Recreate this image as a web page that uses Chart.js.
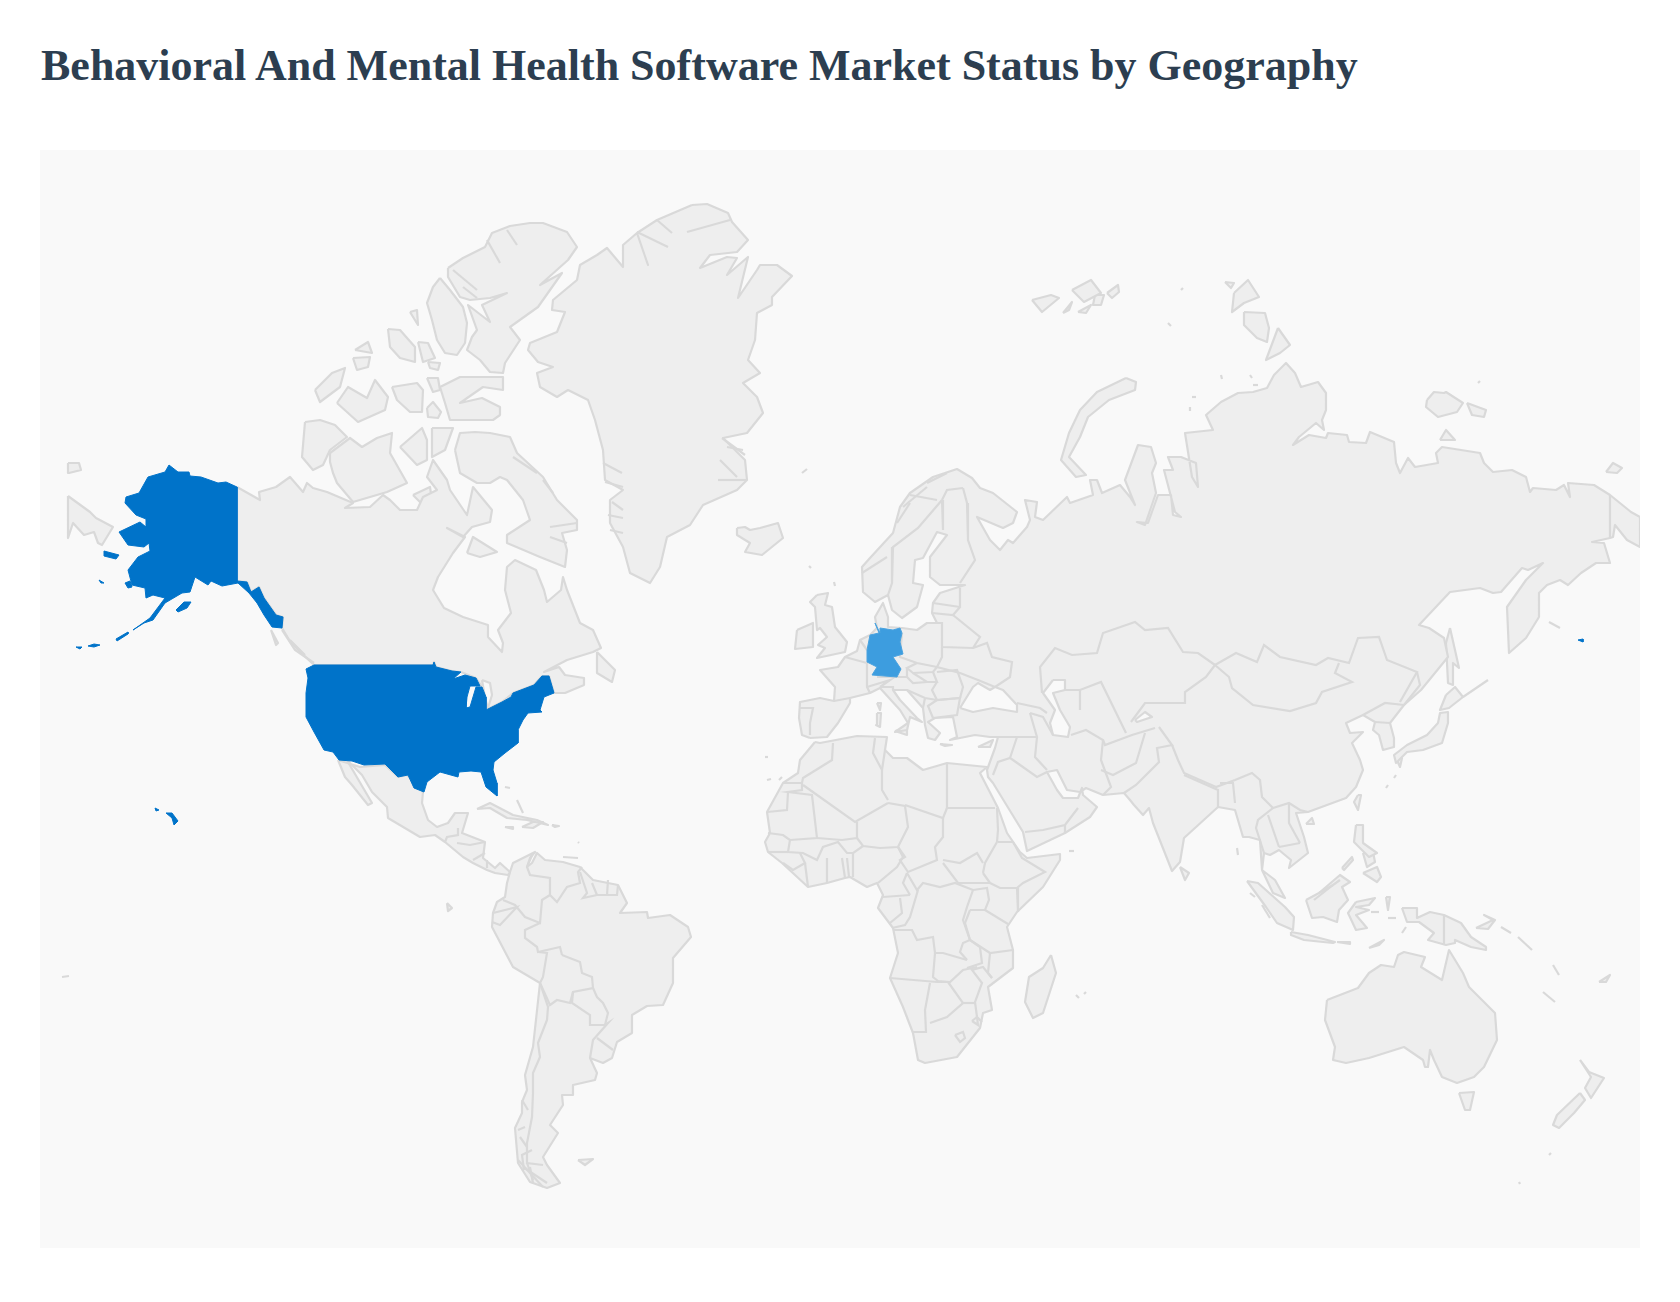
<!DOCTYPE html>
<html>
<head>
<meta charset="utf-8">
<title>Market Status by Geography</title>
<script src="https://cdn.jsdelivr.net/npm/chart.js@4"></script>
<style>
    html, body { margin: 0; background: #fff; }
    h1 { position: absolute; left: 41px; top: 40px; margin: 0; font: bold 44px "Liberation Serif", "Times New Roman", serif; color: #2c3e50; white-space: nowrap; }
    #panel { position: absolute; left: 40px; top: 150px; width: 1600px; height: 1098px; background: #f9f9f9; }
</style>
</head>
<body>
<h1>Behavioral And Mental Health Software Market Status by Geography</h1>
<div id="panel"><canvas id="mapChart"></canvas></div>
<script>
// outlines, x/y in map units
const usaMain = [[314,665],[433,665],[434,662],[436,667],[452,671],[461,672],[453,679],[465,675],[476,678],[480,686],[470,686],[467,697],[466,708],[470,707],[476,687],[482,687],[486,697],[486,710],[502,702],[511,697],[513,693],[534,685],[542,676],[549,676],[554,693],[544,697],[540,710],[542,712],[528,713],[523,720],[518,730],[518,743],[505,753],[494,762],[493,770],[497,783],[497,796],[486,787],[481,772],[471,771],[459,772],[458,777],[440,772],[427,782],[424,792],[414,788],[408,775],[398,777],[385,764],[364,765],[352,761],[339,760],[333,752],[324,750],[314,732],[306,717],[306,693],[308,678],[306,669]];
const alaska = [[169,465],[178,472],[189,472],[190,476],[201,477],[218,483],[226,482],[237,487],[237,581],[247,582],[251,592],[259,587],[264,598],[276,615],[283,617],[282,628],[272,627],[264,615],[257,603],[249,593],[238,583],[222,586],[211,581],[208,585],[195,577],[190,592],[182,593],[165,603],[153,620],[144,623],[133,630],[150,618],[165,598],[153,595],[146,598],[145,588],[132,585],[128,570],[138,557],[150,551],[149,543],[144,547],[128,545],[119,532],[140,522],[146,527],[146,519],[136,515],[125,503],[126,497],[139,493],[148,477],[165,472]];
const usaIslands = [
    [[104,551],[119,555],[116,559],[104,556]],
    [[125,583],[130,581],[132,587],[128,588]],
    [[176,610],[184,602],[191,602],[187,608],[178,612]],
    [[116,639],[128,632],[128,634],[117,641]],
    [[88,646],[94,644],[100,645],[94,647]],
    [[76,647],[82,647],[80,649]],
    [[99,580],[104,583],[101,583]],
    [[166,813],[172,813],[178,821],[174,825],[172,818]],
    [[155,808],[159,810],[156,811]],
    [[1578,640],[1583,639],[1583,642]]
];
const germany = [[875,623],[880,633],[880,628],[893,630],[900,628],[902,633],[900,642],[903,654],[893,657],[901,669],[897,677],[872,675],[877,667],[867,662],[867,650],[870,635],[879,633]];

const canada = [[237,487],[260,500],[259,492],[276,487],[290,477],[303,492],[307,483],[313,488],[327,492],[353,503],[345,508],[370,507],[383,495],[390,500],[400,510],[417,510],[423,497],[437,490],[427,477],[433,460],[447,480],[450,490],[467,515],[473,487],[492,510],[490,522],[472,527],[463,537],[447,528],[465,537],[453,553],[438,577],[433,590],[444,608],[463,617],[488,625],[488,637],[502,652],[503,643],[498,630],[511,613],[505,590],[507,567],[515,560],[536,570],[544,590],[547,602],[561,590],[563,577],[567,590],[580,623],[593,630],[601,648],[593,652],[567,660],[544,672],[559,667],[565,675],[584,678],[584,685],[565,693],[554,693],[549,676],[542,676],[534,685],[513,693],[502,702],[486,710],[486,697],[482,687],[476,678],[461,672],[452,671],[436,667],[434,662],[433,665],[314,665],[291,643],[282,628],[283,617],[276,615],[264,598],[259,587],[251,592],[247,582],[237,581]];
const arcticIslands = [
    [[448,268],[463,258],[485,247],[492,233],[510,226],[530,223],[543,223],[567,232],[577,247],[568,260],[540,285],[562,273],[538,307],[510,327],[520,340],[505,363],[503,373],[490,372],[480,360],[467,350],[472,337],[477,330],[468,305],[490,322],[482,305],[507,293],[490,298],[470,300],[460,297],[448,277]],
    [[440,278],[450,290],[463,307],[467,323],[465,343],[457,355],[445,353],[437,340],[432,320],[427,303],[433,287]],
    [[388,329],[400,330],[415,347],[415,362],[400,358],[390,347]],
    [[418,342],[428,343],[435,358],[423,362]],
    [[355,350],[368,342],[372,353]],
    [[353,358],[370,357],[368,367],[357,370]],
    [[410,312],[417,310],[418,325]],
    [[427,378],[438,378],[440,390],[433,392]],
    [[428,362],[440,363],[438,370],[430,368]],
    [[315,390],[332,373],[345,368],[340,387],[320,402]],
    [[337,403],[348,387],[367,398],[375,380],[388,397],[385,410],[358,422]],
    [[392,387],[417,383],[423,390],[422,412],[410,412],[397,400]],
    [[427,408],[433,402],[441,412],[438,418],[428,417]],
    [[440,387],[460,377],[503,377],[503,390],[483,387],[460,403],[482,398],[500,407],[500,415],[493,420],[450,420],[445,403]],
    [[305,422],[320,420],[335,425],[347,437],[330,450],[323,465],[313,470],[302,457]],
    [[330,453],[350,438],[362,447],[377,438],[392,433],[390,453],[407,483],[387,492],[353,502],[337,483],[333,473],[330,462]],
    [[400,447],[422,428],[427,440],[427,460],[417,465]],
    [[432,428],[453,428],[445,450],[432,457]],
    [[455,450],[460,433],[475,432],[490,433],[510,437],[517,453],[543,477],[557,500],[577,520],[577,530],[562,533],[567,550],[565,567],[540,557],[507,543],[507,535],[530,520],[523,500],[507,480],[500,477],[490,483],[477,483],[460,473]],
    [[467,553],[473,537],[497,552],[480,557]],
    [[413,495],[430,487],[432,500],[420,502]],
    [[597,652],[615,670],[612,682],[597,673]],
    [[271,630],[278,643],[276,645]]
];
const greenland = [[692,205],[707,204],[728,213],[732,222],[748,240],[737,252],[710,255],[700,268],[727,257],[737,258],[727,275],[748,257],[738,298],[757,270],[760,265],[777,265],[792,276],[772,297],[772,305],[757,313],[755,340],[748,360],[760,373],[743,383],[757,397],[763,413],[747,433],[723,438],[745,460],[747,480],[737,490],[703,505],[690,525],[667,537],[660,567],[650,583],[630,573],[623,547],[610,523],[610,500],[623,490],[605,480],[603,450],[595,420],[588,400],[568,390],[557,397],[540,387],[537,373],[553,367],[538,362],[528,350],[530,343],[557,332],[565,312],[552,310],[553,300],[577,280],[580,265],[597,255],[607,248],[623,267],[623,245],[637,233],[648,265],[637,233],[657,220]];
const iceland = [[737,528],[745,527],[750,530],[760,528],[778,523],[783,538],[762,555],[745,552],[750,543],[737,535]];
const mexicoCentral = [[338,760],[360,767],[385,765],[398,777],[407,775],[423,792],[422,803],[428,820],[437,827],[448,823],[455,813],[468,813],[462,833],[485,842],[483,858],[495,868],[500,863],[510,872],[508,875],[495,873],[487,870],[473,863],[463,857],[445,842],[435,835],[420,837],[388,818],[387,807],[372,792],[362,775],[347,760]];
const baja = [[338,760],[348,762],[372,803],[368,805],[352,785],[345,777]];
const caribbean = [
    [[477,809],[490,803],[513,815],[537,820],[548,825],[527,820],[507,818],[490,808]],
    [[522,827],[533,822],[543,822],[533,828]],
    [[505,827],[513,827],[513,829]],
    [[552,825],[559,826],[555,827]],
    [[447,903],[452,908],[448,911]],
    [[578,1160],[593,1159],[585,1165]]
];
const southAmerica = [[510,872],[513,863],[535,852],[530,858],[527,867],[532,863],[537,853],[545,860],[563,862],[580,867],[593,880],[618,885],[627,903],[620,913],[647,912],[648,918],[670,915],[688,927],[691,937],[673,958],[673,983],[663,1005],[647,1006],[632,1015],[632,1033],[617,1042],[612,1058],[603,1063],[590,1058],[597,1073],[595,1080],[573,1085],[573,1095],[562,1095],[563,1105],[550,1125],[558,1133],[543,1157],[547,1165],[560,1183],[547,1188],[530,1182],[518,1163],[515,1128],[522,1113],[522,1102],[527,1090],[525,1075],[533,1047],[540,983],[513,967],[492,927],[493,913],[497,902],[505,897],[507,883]];

const eurasia = [[810,738],[802,735],[799,718],[800,702],[820,698],[834,701],[835,687],[820,670],[838,667],[845,657],[857,651],[860,640],[870,635],[877,628],[875,617],[883,603],[888,617],[888,627],[902,628],[917,630],[927,623],[937,623],[932,613],[933,603],[940,593],[965,585],[940,585],[930,577],[930,557],[947,535],[937,532],[923,558],[915,560],[913,583],[923,585],[917,607],[902,618],[892,610],[888,595],[875,602],[863,592],[862,567],[870,558],[893,533],[900,507],[910,493],[933,477],[957,469],[972,478],[980,488],[993,493],[1017,512],[1013,523],[1003,528],[977,517],[990,540],[1000,550],[1008,540],[1013,543],[1027,527],[1030,520],[1025,500],[1037,502],[1035,517],[1043,520],[1067,497],[1070,503],[1093,495],[1090,480],[1097,480],[1102,493],[1120,485],[1130,497],[1135,505],[1125,480],[1138,445],[1151,447],[1156,463],[1152,473],[1156,493],[1145,525],[1137,522],[1148,523],[1158,495],[1171,495],[1173,515],[1181,517],[1175,512],[1164,470],[1173,470],[1168,457],[1181,457],[1196,463],[1198,487],[1192,477],[1185,433],[1213,430],[1206,415],[1221,402],[1238,393],[1253,392],[1267,388],[1274,375],[1286,363],[1295,373],[1301,387],[1318,382],[1326,393],[1326,410],[1322,420],[1324,430],[1316,423],[1299,437],[1293,445],[1309,435],[1326,438],[1328,433],[1347,435],[1349,442],[1366,443],[1370,432],[1394,442],[1396,463],[1400,473],[1408,458],[1415,467],[1438,463],[1436,453],[1442,447],[1480,453],[1484,463],[1493,472],[1512,470],[1526,477],[1530,492],[1533,488],[1556,490],[1564,485],[1570,497],[1568,483],[1594,485],[1610,495],[1631,512],[1640,517],[1640,547],[1627,540],[1615,525],[1613,537],[1610,538],[1592,542],[1604,543],[1610,563],[1596,563],[1581,573],[1568,585],[1560,580],[1547,585],[1539,593],[1539,617],[1526,638],[1509,653],[1507,607],[1526,580],[1543,563],[1528,570],[1522,568],[1501,592],[1493,593],[1480,588],[1450,592],[1419,625],[1429,628],[1444,638],[1448,657],[1421,690],[1404,705],[1390,723],[1394,738],[1394,747],[1383,750],[1379,735],[1373,730],[1375,722],[1363,715],[1346,723],[1350,733],[1363,732],[1352,743],[1360,760],[1363,770],[1356,787],[1346,798],[1327,805],[1308,812],[1296,813],[1304,837],[1308,853],[1289,868],[1291,860],[1279,850],[1270,855],[1264,853],[1262,870],[1275,880],[1285,898],[1273,893],[1262,870],[1260,840],[1249,837],[1243,837],[1235,810],[1218,807],[1184,838],[1180,862],[1172,871],[1153,823],[1149,808],[1143,815],[1134,805],[1130,800],[1124,793],[1103,795],[1086,788],[1080,792],[1067,790],[1057,770],[1047,772],[1057,790],[1063,798],[1078,798],[1082,788],[1083,795],[1097,807],[1090,817],[1065,833],[1027,851],[1023,832],[993,783],[988,777],[987,770],[995,748],[998,737],[990,737],[975,735],[950,740],[957,737],[953,717],[935,718],[928,722],[940,733],[935,740],[928,738],[925,725],[923,708],[907,690],[893,690],[900,700],[917,718],[922,722],[910,717],[907,730],[895,732],[908,723],[900,710],[880,688],[870,693],[850,698],[850,703],[838,723],[827,737]];
const chukotkaWest = [[68,496],[90,512],[96,518],[113,527],[102,545],[98,543],[94,532],[84,535],[73,523],[68,538]];
const eurasiaIslands = [
    [[817,595],[828,593],[825,605],[832,607],[835,627],[847,642],[845,652],[817,658],[825,648],[818,645],[827,637],[820,628],[817,630],[815,607],[810,602]],
    [[797,630],[813,623],[813,647],[795,649]],
    [[877,713],[881,713],[880,727],[876,725]],
    [[877,703],[881,703],[880,710]],
    [[895,731],[907,728],[907,735]],
    [[940,744],[952,745],[945,746]],
    [[978,747],[993,740],[990,747]],
    [[1032,300],[1051,295],[1059,298],[1042,312]],
    [[1072,290],[1091,280],[1101,293],[1084,302]],
    [[1095,295],[1104,295],[1101,305],[1093,305]],
    [[1107,293],[1118,285],[1119,292],[1112,298]],
    [[1063,313],[1072,302],[1069,310]],
    [[1078,312],[1091,305],[1086,313]],
    [[1234,293],[1248,280],[1259,297],[1244,303],[1232,312]],
    [[1244,312],[1265,313],[1269,328],[1267,342],[1257,338],[1244,325]],
    [[1278,328],[1290,345],[1280,353],[1266,360]],
    [[1225,282],[1234,283],[1231,288]],
    [[1427,400],[1434,392],[1444,393],[1446,392],[1463,403],[1457,412],[1438,417],[1426,407]],
    [[1467,403],[1486,410],[1484,417],[1472,415]],
    [[1440,440],[1446,430],[1455,440]],
    [[1606,472],[1613,463],[1622,468],[1617,473]],
    [[68,463],[79,463],[81,470],[69,473]],
    [[1126,378],[1136,382],[1135,390],[1109,400],[1088,417],[1080,437],[1069,457],[1086,475],[1076,477],[1061,460],[1069,433],[1080,410],[1097,392]],
    [[1450,628],[1455,650],[1459,668],[1453,663],[1453,685],[1448,683],[1446,643]],
    [[1446,695],[1455,687],[1463,697],[1449,708],[1440,710]],
    [[1448,712],[1448,723],[1442,743],[1423,750],[1407,752],[1396,763],[1394,755],[1407,745],[1427,735],[1438,723],[1440,713]],
    [[1396,758],[1402,758],[1400,767]],
    [[1358,795],[1361,795],[1358,810],[1354,802]],
    [[1306,824],[1312,818],[1314,824]],
    [[1356,825],[1363,825],[1363,843],[1377,853],[1369,857],[1354,842]],
    [[1363,873],[1377,867],[1381,877],[1377,882]],
    [[1363,853],[1373,852],[1375,862],[1367,867]],
    [[1342,868],[1352,857],[1353,860],[1344,870]],
    [[1180,867],[1189,873],[1185,880]],
    [[1247,881],[1258,883],[1285,907],[1294,917],[1293,930],[1277,923],[1266,907]],
    [[1291,932],[1308,935],[1335,942],[1333,943],[1304,940],[1291,935]],
    [[1337,942],[1350,942],[1350,944]],
    [[1369,948],[1384,940],[1379,945]],
    [[1306,900],[1319,893],[1340,875],[1350,882],[1342,887],[1348,900],[1339,910],[1337,922],[1323,917],[1312,918]],
    [[1356,902],[1375,898],[1369,905],[1356,907],[1369,910],[1356,915],[1367,928],[1356,930],[1348,913]],
    [[1386,897],[1390,897],[1388,910]]
];
const oceania = [
    [[1402,908],[1417,908],[1417,918],[1430,912],[1444,915],[1461,923],[1471,937],[1486,947],[1486,950],[1471,947],[1455,940],[1455,943],[1446,945],[1428,940],[1434,933],[1419,922],[1407,922]],
    [[1476,928],[1493,920],[1484,915],[1495,920],[1488,929]],
    [[1327,1000],[1358,988],[1369,973],[1381,965],[1394,967],[1398,955],[1404,952],[1425,957],[1421,967],[1442,980],[1449,950],[1463,973],[1469,987],[1484,1002],[1495,1013],[1497,1040],[1484,1067],[1474,1077],[1457,1083],[1442,1077],[1434,1060],[1430,1050],[1428,1067],[1425,1067],[1423,1060],[1404,1047],[1369,1058],[1346,1063],[1333,1060],[1335,1047],[1325,1020]],
    [[1459,1093],[1474,1092],[1470,1110],[1465,1110]],
    [[1580,1060],[1589,1072],[1604,1078],[1591,1098],[1585,1088],[1591,1077]],
    [[1580,1093],[1585,1100],[1574,1113],[1559,1128],[1553,1125],[1557,1115]],
    [[1599,982],[1610,975],[1606,982]]
];
const africa = [[815,742],[800,760],[798,773],[783,783],[767,812],[770,833],[765,842],[768,852],[782,863],[808,887],[827,883],[845,878],[850,877],[867,887],[877,883],[883,895],[878,908],[893,928],[898,953],[890,978],[903,1007],[913,1033],[918,1060],[925,1063],[957,1057],[980,1028],[983,1013],[992,1010],[988,987],[1013,968],[1013,950],[1007,927],[1017,912],[1043,887],[1060,860],[1060,854],[1027,858],[1020,852],[1007,833],[998,808],[980,773],[987,767],[967,765],[947,763],[923,770],[907,758],[893,758],[885,750],[887,737],[857,736],[820,743]];
const madagascar = [[1051,955],[1056,973],[1043,1013],[1033,1018],[1025,1002],[1029,977],[1043,968]];

const blackSea = [[960,708],[973,687],[978,683],[990,690],[995,687],[1003,690],[1017,705],[1017,712],[993,708],[973,712]];
const caspianSea = [[1053,680],[1065,680],[1065,690],[1053,693],[1060,710],[1070,727],[1068,737],[1053,735],[1050,723],[1055,710],[1043,693]];
const aralSea = [[1135,720],[1145,712],[1152,717],[1137,722]];
const greatLakes = [[482,680],[490,683],[492,695],[488,708],[485,698]];

const asiaBorders = [
    [[1042,693],[1040,667],[1055,648],[1072,655],[1097,653],[1103,633],[1135,622],[1145,630],[1168,628],[1183,652],[1198,653],[1215,665]],
    [[1215,665],[1236,653],[1257,662],[1264,645],[1280,657],[1316,665],[1328,658],[1349,663],[1358,638],[1379,637],[1387,660],[1417,672],[1400,702]],
    [[1215,665],[1229,677],[1232,688],[1253,705],[1290,711],[1316,703],[1322,692],[1352,682],[1335,673],[1339,663]],
    [[1215,665],[1206,677],[1185,692],[1185,703],[1145,703],[1131,722]],
    [[1065,690],[1080,690],[1101,682],[1126,733]],
    [[1080,690],[1080,710]],
    [[1071,735],[1086,730],[1103,740],[1101,760],[1111,787],[1103,795]],
    [[1103,740],[1105,745],[1132,735],[1155,728]],
    [[1101,770],[1113,775],[1136,763],[1145,733]],
    [[1124,793],[1136,785],[1159,762],[1157,748],[1172,745],[1159,727]],
    [[1172,745],[1178,760],[1184,773],[1216,787],[1235,780],[1252,773],[1260,780],[1262,797],[1273,808],[1289,803],[1300,810],[1308,812]],
    [[1184,775],[1218,790],[1218,807]],
    [[1220,783],[1233,783],[1235,803]],
    [[1273,808],[1258,820],[1256,828],[1264,853]],
    [[1289,803],[1289,823],[1300,843]],
    [[1279,847],[1300,843]],
    [[1268,815],[1279,847]],
    [[1030,713],[1037,737],[1035,757],[1047,770]],
    [[1047,772],[1037,777],[1013,760],[1010,758],[998,762],[993,775]],
    [[1017,737],[1010,758]],
    [[1037,737],[1017,737],[998,737]],
    [[1078,808],[1065,825],[1043,830],[1025,832]],
    [[1065,825],[1065,833]],
    [[1017,703],[1040,708],[1047,713]],
    [[1030,713],[1043,717],[1053,735]],
    [[1417,672],[1420,685],[1404,705]],
    [[1363,715],[1385,703],[1404,705]],
    [[1375,722],[1390,723]],
    [[1610,495],[1610,538]],
    [[1319,893],[1333,885],[1340,880]],
    [[1444,915],[1444,945]],
    [[1314,900],[1333,885]]
];
const europeBorders = [
    [[963,488],[967,503],[968,540],[975,560],[960,583]],
    [[942,500],[943,530]],
    [[942,500],[947,490],[963,488]],
    [[937,500],[910,495]],
    [[942,500],[918,528],[893,547],[892,583],[888,595]],
    [[960,588],[960,607],[953,615],[932,613]],
    [[933,603],[960,607]],
    [[953,615],[980,637],[973,648],[942,647],[942,623],[927,623]],
    [[942,647],[942,657],[937,667],[960,673],[978,680],[995,687]],
    [[973,648],[987,643],[992,657],[1012,662],[1010,677],[995,687]],
    [[902,633],[900,657],[917,663],[937,667]],
    [[917,663],[907,668],[913,673],[933,672],[937,667]],
    [[913,673],[927,682],[937,682],[933,672]],
    [[937,672],[957,670],[963,687],[960,698],[937,700],[932,690],[937,682]],
    [[937,700],[960,698],[957,715],[933,718]],
    [[877,677],[893,677],[907,677],[907,668]],
    [[867,687],[890,680],[880,687]],
    [[880,687],[893,687],[893,690]],
    [[907,677],[913,683],[927,682]],
    [[907,690],[925,698],[937,700]],
    [[925,698],[923,708]],
    [[933,718],[928,706],[937,700]],
    [[845,657],[867,663],[867,687],[870,693]],
    [[860,640],[867,650]],
    [[834,701],[850,698]],
    [[800,708],[813,708],[810,723],[810,735]]
];
const africaBorders = [
    [[833,743],[832,760],[803,778],[802,783],[783,783]],
    [[875,738],[873,753],[882,770],[882,790],[888,800]],
    [[885,750],[882,770]],
    [[803,785],[855,822],[888,803]],
    [[802,783],[802,790],[788,792],[812,795],[817,838],[790,840]],
    [[788,792],[787,810],[767,812]],
    [[768,833],[783,835],[790,840],[788,852],[803,853],[817,860],[823,847],[838,842],[847,853],[853,853]],
    [[817,838],[842,840],[857,838],[857,822]],
    [[888,803],[905,806],[908,827],[898,847],[880,848],[863,846],[857,838]],
    [[905,805],[943,818],[947,808]],
    [[947,763],[947,808],[995,808]],
    [[943,818],[943,837],[935,847],[937,860],[908,872],[900,860],[905,857],[898,847]],
    [[997,808],[998,830],[997,842],[985,863],[983,873]],
    [[943,860],[960,863],[977,853],[983,863]],
    [[943,863],[958,883],[990,883],[983,873]],
    [[998,842],[1013,842],[1022,858],[1045,872],[1023,883],[1017,888],[1000,888],[990,883]],
    [[1017,888],[1018,912]],
    [[985,910],[1008,924]],
    [[973,890],[987,888],[989,900],[985,910],[970,910]],
    [[907,873],[917,890],[923,883],[940,887],[955,883],[973,890]],
    [[907,873],[903,883],[910,895]],
    [[883,897],[910,895]],
    [[863,846],[853,853],[853,877]],
    [[898,847],[903,857],[897,867],[878,883]],
    [[827,858],[827,883]],
    [[842,858],[845,878]],
    [[847,858],[849,877]],
    [[805,863],[808,887]],
    [[783,863],[793,870],[805,863],[800,853]],
    [[768,852],[788,852]],
    [[918,890],[910,917],[905,925],[892,928]],
    [[900,898],[902,913],[890,923]],
    [[893,930],[912,930],[917,940],[933,937],[935,953],[943,953],[967,960]],
    [[935,953],[933,977],[938,981],[950,982],[963,970],[977,967]],
    [[973,890],[967,907],[963,920],[970,940],[963,943],[960,952],[967,960]],
    [[970,940],[980,947],[982,963],[967,968]],
    [[970,910],[965,923],[970,940],[990,953],[1013,950]],
    [[990,953],[988,973],[992,978]],
    [[992,978],[983,967],[972,970],[982,983],[975,1002],[977,1017],[982,1022]],
    [[890,978],[937,982],[947,982]],
    [[930,983],[925,1010],[926,1032],[913,1032]],
    [[948,982],[963,1003],[947,1017],[930,1023]],
    [[963,1003],[975,1003]],
    [[955,1035],[963,1032],[965,1038],[960,1042],[955,1035]],
    [[972,1021],[977,1017],[978,1025],[972,1021]]
];
const americaBorders = [
    [[445,842],[447,837],[458,835],[458,828]],
    [[457,843],[470,845],[485,842]],
    [[473,860],[485,853]],
    [[487,868],[487,860]],
    [[533,853],[527,867],[530,875],[550,878],[550,895],[557,902],[567,887],[580,883],[578,872],[582,867]],
    [[550,895],[542,900],[540,923],[525,917],[515,905],[503,900]],
    [[493,913],[513,908],[517,907],[500,925],[492,922]],
    [[540,923],[525,930],[525,938],[537,947],[538,952],[560,947],[562,955]],
    [[538,952],[547,953],[543,977],[540,983],[550,1005],[557,1000],[570,1003],[573,992],[593,988],[592,977],[582,973],[580,962],[562,955]],
    [[540,983],[548,1007],[547,1020],[538,1043],[540,1057],[533,1073],[533,1093],[532,1117],[527,1143],[527,1163],[543,1165]],
    [[573,992],[572,1003],[590,1015],[590,1025],[605,1025],[608,1013],[603,1003],[597,997],[593,988]],
    [[605,1025],[608,1023],[593,1040],[590,1058]],
    [[597,1038],[613,1050]],
    [[580,872],[587,893],[583,898],[597,895],[617,895],[618,885]],
    [[592,883],[597,895]],
    [[608,880],[607,895]],
    [[527,1163],[533,1180]],
    [[532,1150],[522,1155],[524,1170]]
];
// fjords and coast clutter, drawn as short strokes
const fjordLines = [
    [[722,438],[745,455]], [[727,447],[743,450]], [[718,480],[747,480]], [[720,460],[737,477]],
    [[612,502],[623,510]], [[608,515],[623,518]], [[610,530],[623,533]], [[605,482],[623,487]], [[603,463],[622,473]],
    [[637,232],[668,247]], [[657,220],[672,233]], [[687,232],[730,220]],
    [[513,457],[537,473]], [[543,480],[553,493]], [[550,527],[577,523]], [[550,537],[567,543]],
    [[453,270],[477,290]], [[463,287],[477,298]], [[487,240],[500,263]], [[507,230],[517,245]],
    [[862,573],[887,557]], [[897,523],[910,503]], [[903,507],[927,487]], [[927,483],[947,473]],
    [[518,1130],[525,1127]], [[520,1137],[527,1147]], [[518,1160],[543,1187]], [[523,1167],[547,1183]], [[530,1167],[533,1183]], [[522,1100],[528,1110]],
    [[282,630],[295,650],[314,663]], [[290,640],[305,655]]
];
const islets = [
    [[1501,927],[1511,933]], [[1518,937],[1532,950]], [[1553,965],[1559,975]], [[1543,992],[1555,1002]],
    [[1076,995],[1079,998]], [[1086,992],[1084,994]], [[1069,851],[1074,851]], [[1237,848],[1238,855]],
    [[1379,912],[1371,912]], [[1388,918],[1396,918]], [[1402,933],[1406,927]], [[1386,788],[1388,785]], [[1394,778],[1396,775]],
    [[1250,893],[1255,897]], [[1262,905],[1270,918]], [[62,977],[69,976]],
    [[802,473],[807,469]], [[809,566],[811,568]], [[834,582],[835,586]],
    [[765,757],[768,757]], [[767,780],[771,779]], [[779,780],[782,777]],
    [[505,787],[510,788]], [[517,800],[523,813]], [[578,842],[579,843]], [[563,857],[578,858]],
    [[1478,383],[1480,381]], [[1181,290],[1183,288]], [[1168,323],[1171,326]], [[1192,397],[1196,397]], [[1190,407],[1190,411]],
    [[1221,375],[1222,379]], [[1250,375],[1252,378]], [[1253,385],[1258,385]], [[1549,622],[1560,628]], [[1463,697],[1488,680]],
    [[1549,1155],[1551,1153]], [[1519,1182],[1520,1184]]
];

const landShapes = [canada, greenland, iceland, mexicoCentral, baja, southAmerica, eurasia, chukotkaWest, africa, madagascar]
    .concat(arcticIslands, caribbean, eurasiaIslands, oceania);
const waterShapes = [blackSea, caspianSea, aralSea, greatLakes];
const borderLines = asiaBorders.concat(europeBorders, africaBorders, americaBorders, fjordLines, islets);
const usaShapes = [usaMain, alaska].concat(usaIslands);

const colorLand = '#eeeeee';
const colorEdge = '#d9d9d9';
const colorSea = '#f9f9f9';

function shapeDataset(points, fill, edge, width, order) {
    let closed = points.concat([points[0]]);
    return {
        data: closed.map(function (p) { return { x: p[0], y: p[1] }; }),
        showLine: true,
        fill: 'shape',
        backgroundColor: fill,
        borderColor: edge,
        borderWidth: width,
        borderJoinStyle: 'round',
        pointRadius: 0,
        tension: 0,
        order: order
    };
}

function lineDataset(points) {
    return {
        data: points.map(function (p) { return { x: p[0], y: p[1] }; }),
        showLine: true,
        fill: false,
        borderColor: colorEdge,
        borderWidth: 2.2,
        pointRadius: 0,
        tension: 0,
        order: 4
    };
}

let datasets = [];
landShapes.forEach(function (s) { datasets.push(shapeDataset(s, colorLand, colorEdge, 2.2, 6)); });
waterShapes.forEach(function (s) { datasets.push(shapeDataset(s, colorSea, colorEdge, 2.2, 5)); });
borderLines.forEach(function (s) { datasets.push(lineDataset(s)); });
datasets.push(shapeDataset(germany, '#3d9ddf', '#4aa3e0', 1, 2));
usaShapes.forEach(function (s) { datasets.push(shapeDataset(s, '#0073c9', '#0073c9', 1, 1)); });

let ctx = document.getElementById('mapChart').getContext('2d');
let mapChart = new Chart(ctx, {
    type: 'scatter',
    data: { datasets: datasets },
    options: {
        responsive: true,
        maintainAspectRatio: false,
        animation: false,
        layout: { padding: 0 },
        plugins: { legend: { display: false }, tooltip: { enabled: false } },
        scales: {
            x: { type: 'linear', min: 40, max: 1640, display: false },
            y: { type: 'linear', min: 150, max: 1248, reverse: true, display: false }
        }
    }
});
</script>
</body>
</html>
